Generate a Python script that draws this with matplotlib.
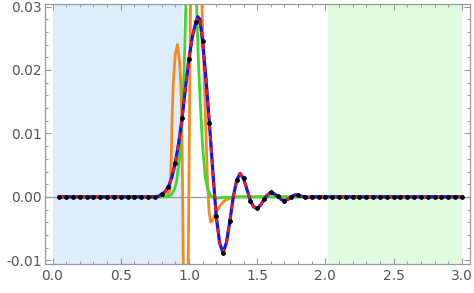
import numpy as np
import matplotlib
matplotlib.use("Agg")
import matplotlib.pyplot as plt
from matplotlib.ticker import MultipleLocator, FormatStrFormatter

# shaded regions (x ranges)
blue_span = (0.0, 0.96)
green_span = (2.02, 3.0)

# exact signal (blue solid + red dashed)
main_x = [0.05, 0.70, 0.75, 0.775, 0.80, 0.825, 0.85, 0.875, 0.90, 0.925, 0.95, 0.975,
          1.00, 1.025, 1.05, 1.065, 1.08, 1.10, 1.125, 1.15, 1.175, 1.20, 1.225, 1.25,
          1.275, 1.30, 1.325, 1.35, 1.375, 1.40, 1.425, 1.45, 1.475, 1.50, 1.525, 1.55,
          1.575, 1.60, 1.625, 1.65, 1.675, 1.70, 1.725, 1.75, 1.775, 1.80, 1.825, 1.85,
          1.875, 1.90, 3.0]
main_y = [0, 0, 0.0, 0.0001, 0.0004, 0.0008, 0.0016, 0.0031, 0.0054, 0.0085, 0.0124, 0.0172,
          0.0218, 0.0252, 0.0275, 0.0284, 0.0280, 0.0245, 0.0186, 0.0116, 0.0040, -0.0030,
          -0.0073, -0.0088, -0.0072, -0.0038, 0.0, 0.0026, 0.0037, 0.0029, 0.0012, -0.0006,
          -0.0016, -0.0018, -0.0013, -0.0004, 0.0003, 0.0007, 0.0005, 0.0001, -0.0004,
          -0.0006, -0.0004, 0.0, 0.0003, 0.0003, 0.0001, 0.0, -0.0001, 0.0, 0.0]

# sampled points (black dots)
dot_x = [round(0.05 * k, 2) for k in range(1, 61)]
dot_y = [0, 0, 0, 0, 0, 0, 0, 0, 0, 0, 0, 0, 0, 0,          # 0.05 .. 0.70
         0.0, 0.0004, 0.0016, 0.0054, 0.0124, 0.0218, 0.0275, 0.0245, 0.0116,   # .. 1.15
         -0.0030, -0.0088, -0.0038, 0.0026, 0.0029, -0.0006, -0.0018, -0.0004,  # .. 1.55
         0.0007, 0.0001, -0.0006, 0.0, 0.0003, 0.0,                             # .. 1.85
         0, 0, 0, 0, 0, 0, 0, 0, 0, 0, 0, 0, 0, 0, 0, 0, 0, 0, 0, 0, 0, 0, 0]    # .. 3.00

# orange approximation (rings around x=1)
orange_x = [0.05, 0.80, 0.84, 0.86, 0.868, 0.876, 0.885, 0.90, 0.916, 0.93, 0.94, 0.948,
            0.953, 0.958, 0.965, 0.977, 0.988, 0.995, 1.003, 1.012, 1.03, 1.055, 1.08,
            1.094, 1.11, 1.122, 1.135, 1.148, 1.16, 1.175, 1.20, 1.23, 1.26, 1.30, 1.35, 3.0]
orange_y = [0, 0, 0.0002, 0.001, 0.004, 0.012, 0.018, 0.0225, 0.024, 0.0215, 0.018, 0.012,
            0.002, -0.009, -0.025, -0.035, -0.025, -0.010, 0.010, 0.031, 0.06, 0.07, 0.05,
            0.031, 0.020, 0.012, 0.003, -0.0025, -0.0040, -0.0036, -0.0024, -0.0013,
            -0.0006, -0.0002, 0.0, 0.0]

# green approximation (single tall bump)
green_x = [0.05, 0.84, 0.87, 0.89, 0.91, 0.93, 0.95, 0.965, 0.978, 1.0, 1.015, 1.035,
           1.055, 1.07, 1.085, 1.10, 1.12, 1.14, 1.16, 1.18, 1.20, 1.25, 1.35, 3.0]
green_y = [0, 0, 0.0003, 0.001, 0.0025, 0.006, 0.012, 0.020, 0.031, 0.048, 0.052, 0.045,
           0.031, 0.021, 0.014, 0.008, 0.003, 0.001, 0.0002, -0.0002, -0.0002, -0.0001, 0, 0]

fig = plt.figure(figsize=(4.74, 2.93), dpi=100)
ax = fig.add_axes([45 / 474, 1 - 263.5 / 293, 425 / 474, 259.5 / 293])

ax.axvspan(*blue_span, color="#DDEDFC", lw=0, zorder=0)
ax.axvspan(*green_span, color="#E0FCE0", lw=0, zorder=0)
ax.axhline(0, color="#999999", lw=0.9, zorder=1)

ax.plot(orange_x, orange_y, color="#F5891F", lw=2.0, zorder=2)
ax.plot(green_x, green_y, color="#3CD82C", lw=2.0, zorder=2)
ax.plot(main_x, main_y, color="#1414F0", lw=2.3, zorder=3)
ax.plot(main_x, main_y, color="#F01818", lw=1.9, dashes=(2.2, 2.2), zorder=4)
ax.scatter(dot_x, dot_y, s=12, color="black", zorder=5, linewidths=0)

ax.set_xlim(-0.055, 3.06)
ax.set_ylim(-0.0105, 0.0304)

ax.xaxis.set_major_locator(MultipleLocator(0.5))
ax.xaxis.set_minor_locator(MultipleLocator(0.1))
ax.yaxis.set_major_locator(MultipleLocator(0.01))
ax.yaxis.set_minor_locator(MultipleLocator(0.002))
ax.xaxis.set_major_formatter(FormatStrFormatter("%.1f"))
ax.yaxis.set_major_formatter(FormatStrFormatter("%.2f"))

for s in ax.spines.values():
    s.set_color("#999999")
    s.set_linewidth(0.9)
ax.tick_params(which="both", direction="in", top=True, right=True,
               color="#999999", labelcolor="#555555", labelsize=10)
ax.tick_params(which="major", length=4.5, width=0.8, pad=4)
ax.tick_params(axis="y", which="major", pad=2.5)
ax.tick_params(which="minor", length=2.5, width=0.7)

fig.savefig("out.png", dpi=100)
